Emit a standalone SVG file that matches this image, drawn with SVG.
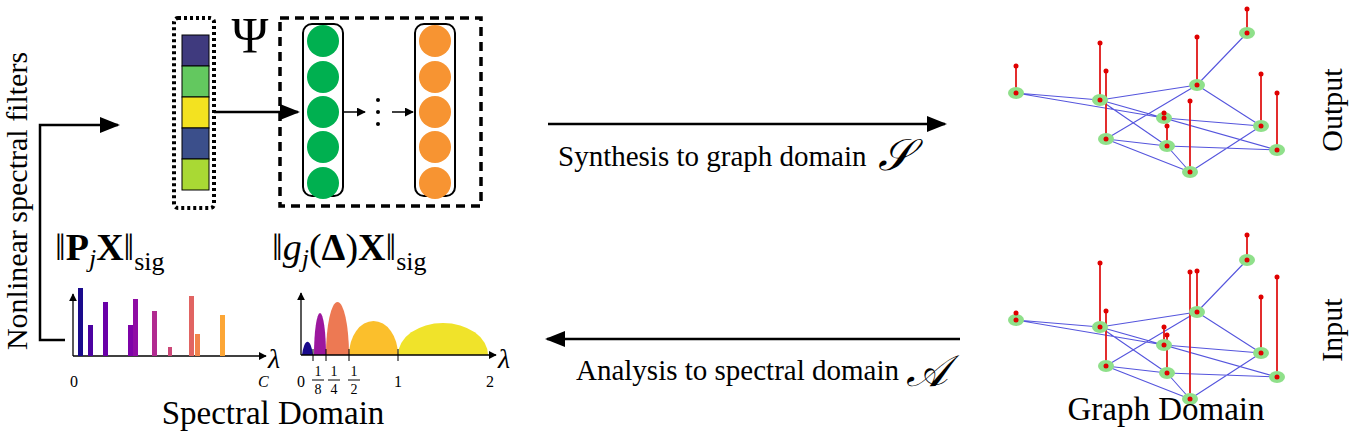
<svg xmlns="http://www.w3.org/2000/svg" width="1353" height="431" viewBox="0 0 1353 431">
<style>
text{font-family:"Liberation Serif",serif;fill:#000}
.e{stroke:#5555dd;stroke-width:1.1;fill:none}
.st{stroke:#e01818;stroke-width:1.8}
.nd{fill:#8fe08a}
.rd{fill:#e00000}
.ax{stroke:#000;stroke-width:1.3;fill:none}
</style>
<defs>
<marker id="ah" viewBox="0 0 10 10" refX="9" refY="5" markerWidth="6" markerHeight="6" orient="auto"><path d="M0,0L10,5L0,10z" fill="#000"/></marker>
<marker id="sa" viewBox="0 0 10 10" refX="9" refY="5" markerWidth="8" markerHeight="8" orient="auto"><path d="M0,1L10,5L0,9z" fill="#000"/></marker>
<g id="graph">
<g class="e">
<path d="M1016,93L1100,100M1016,93L1164,118M1100,100L1197,85M1100,100L1277,150M1100,100L1167,146M1106,139L1197,85M1106,139L1167,146M1106,139L1190,172M1197,85L1247,33M1197,85L1261,126M1164,118L1261,126M1164,118L1277,150M1167,146L1277,150M1190,172L1261,126M1167,146L1190,172"/>
</g>
</g>
</defs>
<g id="connectors">
<path d="M65,340H40V125H118" fill="none" stroke="#000" stroke-width="2.5" marker-end="url(#sa)"/>
<path d="M214,112H298" stroke="#000" stroke-width="2.5" marker-end="url(#sa)"/>
<path d="M344,112H365" stroke="#000" stroke-width="1.5" marker-end="url(#ah)"/>
<path d="M392,112H413" stroke="#000" stroke-width="1.5" marker-end="url(#ah)"/>
<path d="M548,124H945" stroke="#000" stroke-width="2.5" marker-end="url(#sa)"/>
<path d="M960,339H547" stroke="#000" stroke-width="2.5" marker-end="url(#sa)"/>
</g>
<g id="side-label"><text transform="translate(27,201) rotate(-90)" font-size="30" text-anchor="middle">Nonlinear spectral filters</text></g>
<g id="input-vector">
<rect x="174" y="18" width="40" height="190" rx="4" fill="none" stroke="#000" stroke-width="4" stroke-dasharray="3,3"/>
<rect x="182" y="35" width="27" height="31" fill="#3f3a7e" stroke="#000"/>
<rect x="182" y="66" width="27" height="31" fill="#63c85f" stroke="#000"/>
<rect x="182" y="97" width="27" height="31" fill="#f3e220" stroke="#000"/>
<rect x="182" y="128" width="27" height="31" fill="#3b4f8b" stroke="#000"/>
<rect x="182" y="159" width="27" height="31" fill="#a9d934" stroke="#000"/>
</g>
<g id="network">
<text x="250" y="52" font-size="50" text-anchor="middle">Ψ</text>
<rect x="280" y="18" width="201" height="188" fill="none" stroke="#000" stroke-width="3.5" stroke-dasharray="9,6"/>
<rect x="303" y="24" width="40" height="172" rx="9" fill="none" stroke="#000" stroke-width="2"/>
<g fill="#00b050"><circle cx="323" cy="41" r="16"/><circle cx="323" cy="77" r="16"/><circle cx="323" cy="112" r="16"/><circle cx="323" cy="147" r="16"/><circle cx="323" cy="183" r="16"/></g>
<rect x="415" y="24" width="40" height="172" rx="9" fill="none" stroke="#000" stroke-width="2"/>
<g fill="#f79432"><circle cx="435" cy="41" r="16"/><circle cx="435" cy="77" r="16"/><circle cx="435" cy="112" r="16"/><circle cx="435" cy="147" r="16"/><circle cx="435" cy="183" r="16"/></g>
<g fill="#000"><circle cx="378" cy="100" r="2"/><circle cx="378" cy="112" r="2"/><circle cx="378" cy="124" r="2"/></g>
</g>
<g id="synthesis-label"><text x="558" y="166" font-size="29">Synthesis to graph domain</text><text x="878" y="170" font-size="44" font-style="italic">𝒮</text></g>
<g id="analysis-label"><text x="576" y="380" font-size="29">Analysis to spectral domain</text><text x="906" y="386" font-size="44" font-style="italic">𝒜</text></g>
<g id="output-graph">
<use href="#graph"/>
<g class="st"><path d="M1016,66V93M1100,43V100M1106,71V139M1197,37V85M1247,9V33M1164,113V118M1167,126V146M1190,101V172M1261,74V126M1277,93V150"/></g>
<g class="nd"><ellipse cx="1016" cy="93" rx="8" ry="6"/><ellipse cx="1100" cy="100" rx="8" ry="6"/><ellipse cx="1106" cy="139" rx="8" ry="6"/><ellipse cx="1197" cy="85" rx="8" ry="6"/><ellipse cx="1247" cy="33" rx="8" ry="6"/><ellipse cx="1164" cy="118" rx="8" ry="6"/><ellipse cx="1167" cy="146" rx="8" ry="6"/><ellipse cx="1190" cy="172" rx="8" ry="6"/><ellipse cx="1261" cy="126" rx="8" ry="6"/><ellipse cx="1277" cy="150" rx="8" ry="6"/></g>
<g class="rd"><circle cx="1016" cy="93" r="2.5"/><circle cx="1016" cy="66" r="2.5"/><circle cx="1100" cy="100" r="2.5"/><circle cx="1100" cy="43" r="2.5"/><circle cx="1106" cy="139" r="2.5"/><circle cx="1106" cy="71" r="2.5"/><circle cx="1197" cy="85" r="2.5"/><circle cx="1197" cy="37" r="2.5"/><circle cx="1247" cy="33" r="2.5"/><circle cx="1247" cy="9" r="2.5"/><circle cx="1164" cy="118" r="2.5"/><circle cx="1164" cy="113" r="2.5"/><circle cx="1167" cy="146" r="2.5"/><circle cx="1167" cy="126" r="2.5"/><circle cx="1190" cy="172" r="2.5"/><circle cx="1190" cy="101" r="2.5"/><circle cx="1261" cy="126" r="2.5"/><circle cx="1261" cy="74" r="2.5"/><circle cx="1277" cy="150" r="2.5"/><circle cx="1277" cy="93" r="2.5"/></g>
</g>
<g id="input-graph" transform="translate(0,227)">
<use href="#graph"/>
<g class="st"><path d="M1016,86V93M1100,36V100M1106,84V139M1197,44V85M1247,8V33M1164,100V118M1167,108V146M1190,45V172M1261,70V126M1277,50V150"/></g>
<g class="nd"><ellipse cx="1016" cy="93" rx="8" ry="6"/><ellipse cx="1100" cy="100" rx="8" ry="6"/><ellipse cx="1106" cy="139" rx="8" ry="6"/><ellipse cx="1197" cy="85" rx="8" ry="6"/><ellipse cx="1247" cy="33" rx="8" ry="6"/><ellipse cx="1164" cy="118" rx="8" ry="6"/><ellipse cx="1167" cy="146" rx="8" ry="6"/><ellipse cx="1190" cy="172" rx="8" ry="6"/><ellipse cx="1261" cy="126" rx="8" ry="6"/><ellipse cx="1277" cy="150" rx="8" ry="6"/></g>
<g class="rd"><circle cx="1016" cy="93" r="2.5"/><circle cx="1016" cy="86" r="2.5"/><circle cx="1100" cy="100" r="2.5"/><circle cx="1100" cy="36" r="2.5"/><circle cx="1106" cy="139" r="2.5"/><circle cx="1106" cy="84" r="2.5"/><circle cx="1197" cy="85" r="2.5"/><circle cx="1197" cy="44" r="2.5"/><circle cx="1247" cy="33" r="2.5"/><circle cx="1247" cy="8" r="2.5"/><circle cx="1164" cy="118" r="2.5"/><circle cx="1164" cy="100" r="2.5"/><circle cx="1167" cy="146" r="2.5"/><circle cx="1167" cy="108" r="2.5"/><circle cx="1190" cy="172" r="2.5"/><circle cx="1190" cy="45" r="2.5"/><circle cx="1261" cy="126" r="2.5"/><circle cx="1261" cy="70" r="2.5"/><circle cx="1277" cy="150" r="2.5"/><circle cx="1277" cy="50" r="2.5"/></g>
</g>
<g id="labels">
<text transform="translate(1342,110) rotate(-90)" font-size="30" text-anchor="middle">Output</text>
<text transform="translate(1342,330) rotate(-90)" font-size="30" text-anchor="middle">Input</text>
<text x="1166" y="420" font-size="33" text-anchor="middle">Graph Domain</text>
<text x="273" y="424" font-size="33" text-anchor="middle">Spectral Domain</text>
</g>
<g id="bar-chart">
<text x="55" y="260" font-size="38">‖<tspan font-weight="bold">P</tspan><tspan font-style="italic" font-size="26" dy="7">j</tspan><tspan font-weight="bold" dy="-7">X</tspan>‖<tspan font-size="26" dy="10">sig</tspan></text>
<path d="M73,356V294" class="ax" marker-end="url(#ah)"/>
<path d="M73,356H266" class="ax" marker-end="url(#ah)"/>
<g>
<rect x="78" y="288" width="5" height="68" fill="#1a0a8c"/>
<rect x="88" y="325" width="5" height="31" fill="#4c02a1"/>
<rect x="103" y="302" width="5" height="54" fill="#6a00a8"/>
<rect x="128" y="325" width="5" height="31" fill="#7e03a8"/>
<rect x="133" y="299" width="5" height="57" fill="#8f0da4"/>
<rect x="152" y="311" width="5" height="45" fill="#b12a90"/>
<rect x="168" y="347" width="4" height="9" fill="#cc4778"/>
<rect x="189" y="296" width="5" height="60" fill="#e16462"/>
<rect x="195" y="334" width="5" height="22" fill="#f2844b"/>
<rect x="220" y="315" width="5" height="41" fill="#fca636"/>
</g>
<text x="74" y="387" font-size="16" text-anchor="middle">0</text>
<text x="258" y="387" font-size="16" font-style="italic">C</text>
<text x="268" y="368" font-size="28" font-style="italic">λ</text>
</g>
<g id="filter-chart">
<text x="272" y="260" font-size="38">‖<tspan font-style="italic">g</tspan><tspan font-style="italic" font-size="26" dy="7">j</tspan><tspan dy="-7">(</tspan><tspan font-weight="bold">Δ</tspan>)<tspan font-weight="bold">X</tspan>‖<tspan font-size="26" dy="10">sig</tspan></text>
<path d="M302,355A6,22 0 0 1 313,355Z" fill="#1a0a8c"/>
<path d="M314,355A6,42 0 0 1 326,355Z" fill="#9c179e"/>
<path d="M326,355A11.5,53 0 0 1 349,355Z" fill="#ed7953"/>
<path d="M349,355A24.5,34 0 0 1 398,355Z" fill="#fbbf2c"/>
<path d="M398,355A45,32 0 0 1 488,355Z" fill="#f0e32a"/>
<path d="M301,355V293" class="ax" marker-end="url(#ah)"/>
<path d="M301,355H496" class="ax" marker-end="url(#ah)"/>
<path d="M313,349V361M326,349V361M349,349V361M398,349V361" stroke="#000" stroke-width="1"/>
<text x="301" y="387" font-size="16" text-anchor="middle">0</text>
<g font-size="14" text-anchor="middle">
<text x="318" y="376">1</text><text x="318" y="394">8</text><path d="M312,380H324" stroke="#000"/>
<text x="334" y="376">1</text><text x="334" y="394">4</text><path d="M328,380H340" stroke="#000"/>
<text x="354" y="376">1</text><text x="354" y="394">2</text><path d="M348,380H360" stroke="#000"/>
</g>
<text x="398" y="387" font-size="16" text-anchor="middle">1</text><text x="490" y="387" font-size="16" text-anchor="middle">2</text>
<text x="498" y="368" font-size="28" font-style="italic">λ</text>
</g>
</svg>
